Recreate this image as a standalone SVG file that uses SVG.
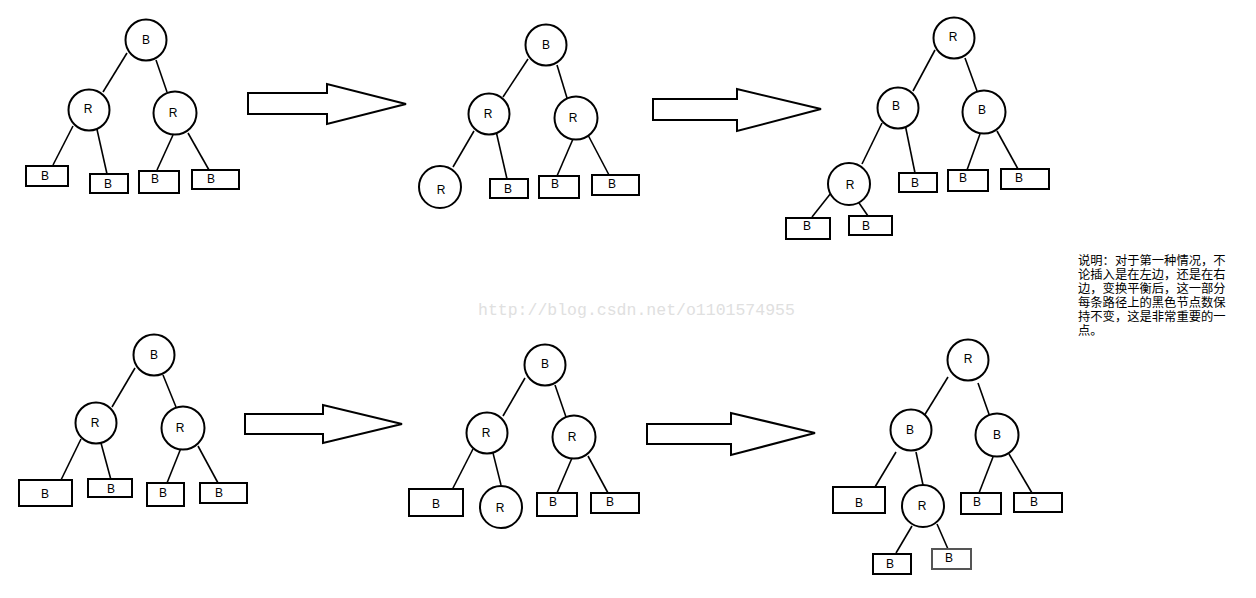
<svg xmlns="http://www.w3.org/2000/svg" width="1256" height="598" viewBox="0 0 1256 598">
<style>
.n circle, .n rect { fill: #fff; stroke: #000; stroke-width: 2; }
.n text { font-family: "Liberation Sans", Arial, sans-serif; font-size: 12px; fill: #000; text-anchor: middle; dominant-baseline: central; }
.c line { stroke: #000; stroke-width: 1.6; }
.arr { fill: #fff; stroke: #000; stroke-width: 2; }
.note { font-family: "Noto Sans CJK SC", sans-serif; font-size: 12.3px; fill: #000; }
.wm { font-family: "Liberation Mono", monospace; font-size: 16.5px; fill: #e0e0e0; }
</style>
<rect width="1256" height="598" fill="#fff"/>
<text class="wm" x="478" y="315">http://blog.csdn.net/o1101574955</text>

<g class="c" id="connectors">
<line x1="127" y1="53" x2="103" y2="92"/>
<line x1="156" y1="60" x2="167" y2="92"/>
<line x1="73" y1="126" x2="53" y2="165"/>
<line x1="96" y1="125" x2="107" y2="174"/>
<line x1="173" y1="135" x2="157" y2="170"/>
<line x1="188" y1="133" x2="209" y2="170"/>
<line x1="528" y1="59" x2="503" y2="97"/>
<line x1="557" y1="65" x2="567" y2="98"/>
<line x1="474" y1="131" x2="453" y2="167"/>
<line x1="496" y1="131" x2="507" y2="179"/>
<line x1="573" y1="139" x2="557" y2="176"/>
<line x1="588" y1="135" x2="609" y2="175"/>
<line x1="935" y1="50" x2="913" y2="91"/>
<line x1="965" y1="58" x2="977" y2="91"/>
<line x1="882" y1="123" x2="862" y2="164"/>
<line x1="905" y1="124" x2="915" y2="173"/>
<line x1="980" y1="134" x2="967" y2="170"/>
<line x1="997" y1="131" x2="1018" y2="169"/>
<line x1="831" y1="193" x2="812" y2="217"/>
<line x1="857" y1="200" x2="868" y2="216"/>
<line x1="135" y1="368" x2="112" y2="407"/>
<line x1="163" y1="375" x2="176" y2="407"/>
<line x1="81" y1="439" x2="61" y2="480"/>
<line x1="101" y1="443" x2="111" y2="480"/>
<line x1="181" y1="448" x2="167" y2="483"/>
<line x1="198" y1="446" x2="218" y2="483"/>
<line x1="525" y1="378" x2="503" y2="416"/>
<line x1="555" y1="385" x2="566" y2="417"/>
<line x1="473" y1="449" x2="452" y2="490"/>
<line x1="493" y1="453" x2="501" y2="485"/>
<line x1="572" y1="458" x2="557" y2="493"/>
<line x1="588" y1="456" x2="608" y2="493"/>
<line x1="948" y1="377" x2="924" y2="416"/>
<line x1="978" y1="383" x2="990" y2="417"/>
<line x1="896" y1="452" x2="875" y2="487"/>
<line x1="916" y1="452" x2="923" y2="485"/>
<line x1="993" y1="457" x2="979" y2="493"/>
<line x1="1009" y1="454" x2="1032" y2="493"/>
<line x1="912" y1="526" x2="896" y2="553"/>
<line x1="937" y1="524" x2="948" y2="549"/>
</g>

<g id="arrows">
<polygon class="arr" points="248,93 327,93 327,84 406,104 327,124 327,114 248,114"/>
<polygon class="arr" points="653,99 737,99 737,89 821,109 737,131 737,120 653,120"/>
<polygon class="arr" points="245,414 323,414 323,405 402,424 323,443 323,434 245,434"/>
<polygon class="arr" points="647,424 731,424 731,413 815,433 731,455 731,444 647,444"/>
</g>

<g class="n" id="tl-root"><circle cx="146" cy="40" r="20.5"/><text x="146" y="40">B</text></g>
<g class="n" id="tl-l"><circle cx="89" cy="110" r="20.5"/><text x="88" y="109">R</text></g>
<g class="n" id="tl-r"><circle cx="175" cy="113" r="21.5"/><text x="173" y="113">R</text></g>
<g class="n" id="tl-ll"><rect x="26" y="166" width="42" height="20"/><text x="45" y="176">B</text></g>
<g class="n" id="tl-lr"><rect x="90" y="174" width="38" height="19"/><text x="108" y="184">B</text></g>
<g class="n" id="tl-rl"><rect x="139" y="171" width="40" height="22"/><text x="155" y="179">B</text></g>
<g class="n" id="tl-rr"><rect x="192" y="170" width="47" height="19"/><text x="211" y="179">B</text></g>

<g class="n" id="tm-root"><circle cx="546" cy="45" r="20.5"/><text x="546" y="45">B</text></g>
<g class="n" id="tm-l"><circle cx="489" cy="114" r="20.5"/><text x="488" y="114">R</text></g>
<g class="n" id="tm-r"><circle cx="576" cy="118" r="21.5"/><text x="573" y="118">R</text></g>
<g class="n" id="tm-ll"><circle cx="440" cy="187" r="21"/><text x="441" y="190">R</text></g>
<g class="n" id="tm-lr"><rect x="490" y="179" width="38" height="19"/><text x="508" y="189">B</text></g>
<g class="n" id="tm-rl"><rect x="539" y="176" width="40" height="22"/><text x="555" y="184">B</text></g>
<g class="n" id="tm-rr"><rect x="592" y="175" width="47" height="20"/><text x="612" y="184">B</text></g>

<g class="n" id="tr-root"><circle cx="954" cy="38" r="20.5"/><text x="953" y="37">R</text></g>
<g class="n" id="tr-l"><circle cx="898" cy="108" r="20.5"/><text x="896" y="106">B</text></g>
<g class="n" id="tr-r"><circle cx="984" cy="112" r="21.5"/><text x="982" y="110">B</text></g>
<g class="n" id="tr-ll"><circle cx="849" cy="184" r="21"/><text x="850" y="185">R</text></g>
<g class="n" id="tr-lr"><rect x="899" y="173" width="38" height="19"/><text x="915" y="183">B</text></g>
<g class="n" id="tr-rl"><rect x="948" y="170" width="40" height="21"/><text x="963" y="178">B</text></g>
<g class="n" id="tr-rr"><rect x="1001" y="169" width="48" height="20"/><text x="1019" y="178">B</text></g>
<g class="n" id="tr-lll"><rect x="786" y="218" width="44" height="21"/><text x="807" y="226">B</text></g>
<g class="n" id="tr-llr"><rect x="849" y="216" width="43" height="19"/><text x="866" y="226">B</text></g>

<g class="n" id="bl-root"><circle cx="154" cy="355" r="20.5"/><text x="154" y="355">B</text></g>
<g class="n" id="bl-l"><circle cx="96" cy="423" r="20.5"/><text x="95" y="423">R</text></g>
<g class="n" id="bl-r"><circle cx="183" cy="428" r="21.5"/><text x="180" y="428">R</text></g>
<g class="n" id="bl-ll"><rect x="19" y="480" width="53" height="26"/><text x="45" y="494">B</text></g>
<g class="n" id="bl-lr"><rect x="88" y="479" width="44" height="18"/><text x="111" y="489">B</text></g>
<g class="n" id="bl-rl"><rect x="147" y="483" width="37" height="23"/><text x="163" y="493">B</text></g>
<g class="n" id="bl-rr"><rect x="200" y="483" width="47" height="20"/><text x="219" y="493">B</text></g>

<g class="n" id="bm-root"><circle cx="545" cy="365" r="20.5"/><text x="545" y="364">B</text></g>
<g class="n" id="bm-l"><circle cx="487" cy="433" r="20.5"/><text x="486" y="433">R</text></g>
<g class="n" id="bm-r"><circle cx="574" cy="437" r="21.5"/><text x="572" y="437">R</text></g>
<g class="n" id="bm-ll"><rect x="409" y="489" width="54" height="27"/><text x="436" y="504">B</text></g>
<g class="n" id="bm-lr"><circle cx="501" cy="507" r="21"/><text x="500" y="508">R</text></g>
<g class="n" id="bm-rl"><rect x="537" y="493" width="40" height="23"/><text x="553" y="502">B</text></g>
<g class="n" id="bm-rr"><rect x="591" y="493" width="48" height="20"/><text x="610" y="502">B</text></g>

<g class="n" id="br-root"><circle cx="968" cy="360" r="20.5"/><text x="968" y="359">R</text></g>
<g class="n" id="br-l"><circle cx="911" cy="430" r="20.5"/><text x="910" y="430">B</text></g>
<g class="n" id="br-r"><circle cx="997" cy="435" r="21.5"/><text x="997" y="435">B</text></g>
<g class="n" id="br-ll"><rect x="833" y="487" width="52" height="26"/><text x="859" y="503">B</text></g>
<g class="n" id="br-lr"><circle cx="923" cy="506" r="21"/><text x="922" y="506">R</text></g>
<g class="n" id="br-rl"><rect x="961" y="493" width="40" height="21"/><text x="977" y="502">B</text></g>
<g class="n" id="br-rr"><rect x="1014" y="493" width="48" height="19"/><text x="1034" y="502">B</text></g>
<g class="n" id="br-lrl"><rect x="873" y="554" width="38" height="20"/><text x="890" y="564">B</text></g>
<g class="n" id="br-lrr"><rect x="932" y="549" width="39" height="20" style="stroke:#555"/><text x="949" y="558">B</text></g>

<g id="note">
<text class="note" x="1078" y="265">说明：对于第一种情况，不</text>
<text class="note" x="1078" y="279">论插入是在左边，还是在右</text>
<text class="note" x="1078" y="293">边，变换平衡后，这一部分</text>
<text class="note" x="1078" y="307">每条路径上的黑色节点数保</text>
<text class="note" x="1078" y="321">持不变，这是非常重要的一</text>
<text class="note" x="1078" y="335">点。</text>
</g>
</svg>
